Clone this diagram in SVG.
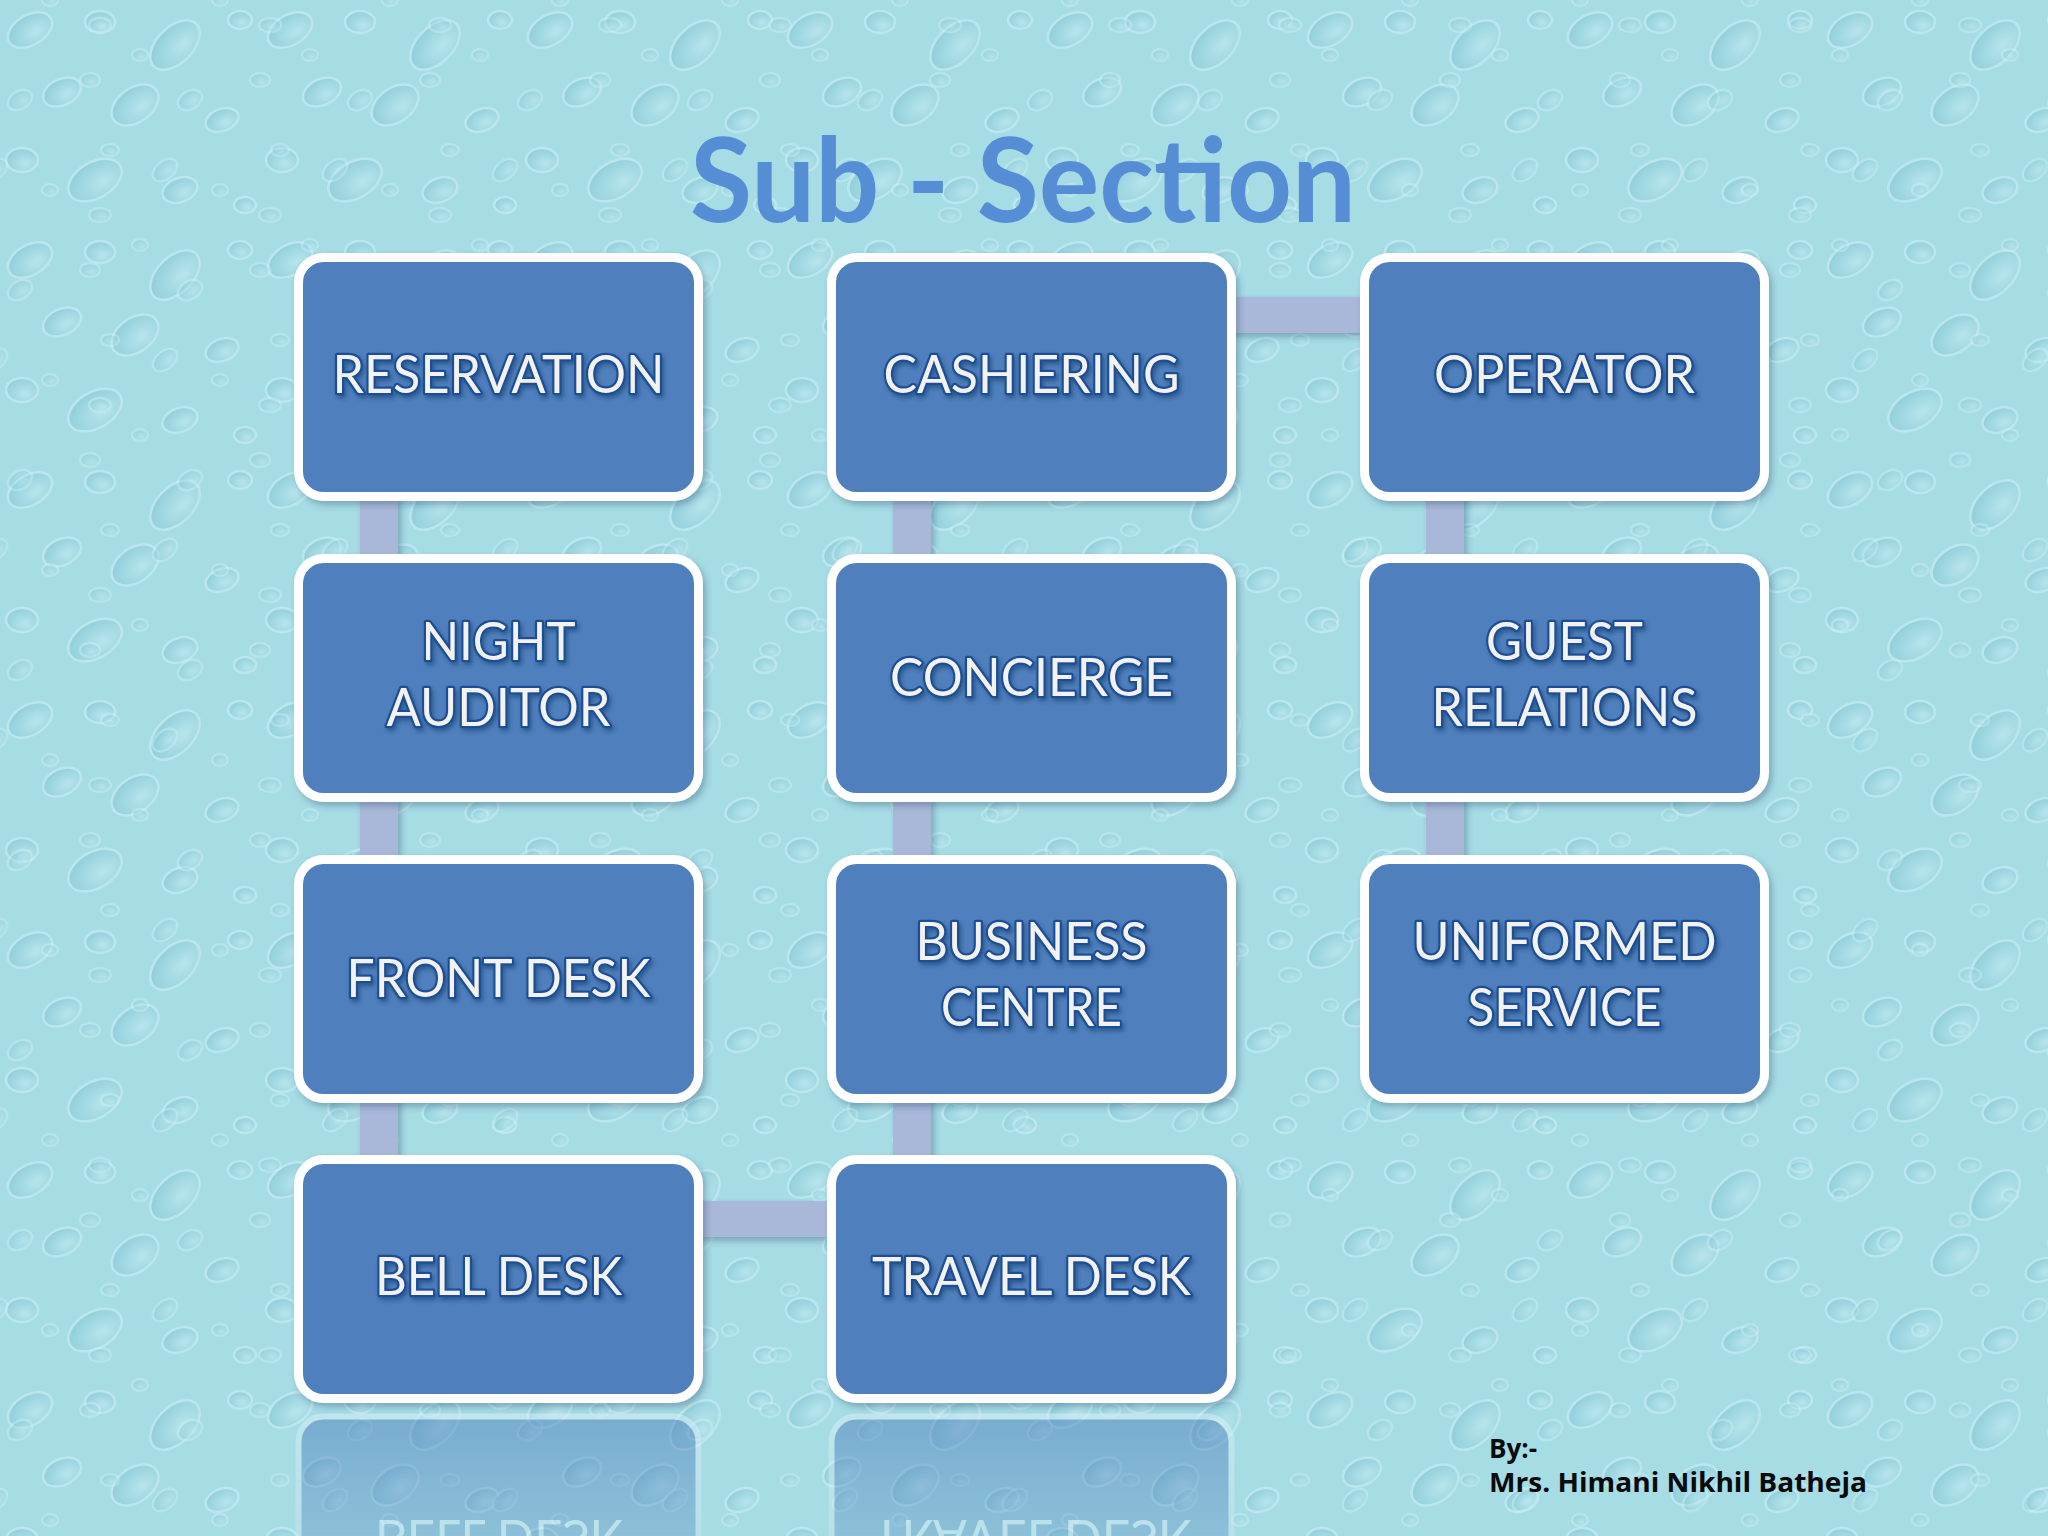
<svg xmlns="http://www.w3.org/2000/svg" width="2048" height="1536" viewBox="0 0 2048 1536">
<defs>
<style>
.box{fill:#4f80bd;stroke:#ffffff;stroke-width:9}
.lbl{font-family:Lato,"Open Sans","Liberation Sans",sans-serif;font-size:52px;fill:#f4f2ec;stroke:#1b4d98;stroke-width:4.5;stroke-linejoin:round;paint-order:stroke;text-anchor:middle}
.con{fill:#a9b8d9}
.title{font-family:Lato,"Open Sans","Liberation Sans",sans-serif;font-weight:bold;font-size:116px;fill:#568ed6}
.by{font-family:"Open Sans",Lato,"Liberation Sans",sans-serif;font-weight:bold;font-size:26px;fill:#0a0a0a}
.dr{fill:url(#drop);stroke:#cdeff4;stroke-width:2.5}
</style>
<radialGradient id="drop" cx="0.6" cy="0.65" r="0.6">
<stop offset="0" stop-color="#c6ecf2"/>
<stop offset="0.7" stop-color="#98d3df"/>
<stop offset="1" stop-color="#86c8d6"/>
</radialGradient>
<pattern id="tex1" width="260" height="230" patternUnits="userSpaceOnUse">
<g opacity="0.55">
<ellipse class="dr" cx="30" cy="30" rx="24" ry="15" transform="rotate(-30 30 30)"/>
<ellipse class="dr" cx="100" cy="22" rx="15" ry="11"/>
<ellipse class="dr" cx="175" cy="45" rx="30" ry="18" transform="rotate(-45 175 45)"/>
<ellipse class="dr" cx="240" cy="20" rx="12" ry="9"/>
<ellipse class="dr" cx="62" cy="92" rx="20" ry="13" transform="rotate(-25 62 92)"/>
<ellipse class="dr" cx="135" cy="105" rx="26" ry="17" transform="rotate(-35 135 105)"/>
<ellipse class="dr" cx="222" cy="120" rx="17" ry="11" transform="rotate(-20 222 120)"/>
<ellipse class="dr" cx="22" cy="160" rx="16" ry="12"/>
<ellipse class="dr" cx="95" cy="180" rx="29" ry="18" transform="rotate(-30 95 180)"/>
<ellipse class="dr" cx="180" cy="190" rx="18" ry="12" transform="rotate(-20 180 190)"/>
<ellipse class="dr" cx="245" cy="205" rx="11" ry="8"/>
</g>
</pattern>
<pattern id="tex2" x="70" y="40" width="170" height="190" patternUnits="userSpaceOnUse">
<g opacity="0.4">
<ellipse class="dr" cx="20" cy="40" rx="10" ry="7"/>
<ellipse class="dr" cx="70" cy="15" rx="8" ry="6"/>
<ellipse class="dr" cx="120" cy="60" rx="13" ry="9" transform="rotate(-30 120 60)"/>
<ellipse class="dr" cx="40" cy="110" rx="9" ry="6"/>
<ellipse class="dr" cx="95" cy="130" rx="14" ry="9" transform="rotate(-40 95 130)"/>
<ellipse class="dr" cx="150" cy="150" rx="8" ry="6"/>
<ellipse class="dr" cx="30" cy="175" rx="11" ry="7"/>
</g>
</pattern>
<filter id="sh" x="-10%" y="-10%" width="125%" height="130%">
<feDropShadow dx="3" dy="4" stdDeviation="3" flood-color="#2a4a6a" flood-opacity="0.35"/>
</filter>
<filter id="tsh" x="-10%" y="-20%" width="120%" height="150%">
<feDropShadow dx="2" dy="3" stdDeviation="2" flood-color="#0d2a55" flood-opacity="0.45"/>
</filter>
<linearGradient id="fade" x1="0" y1="0" x2="0" y2="1">
<stop offset="0" stop-color="#fff" stop-opacity="0.55"/>
<stop offset="1" stop-color="#fff" stop-opacity="0.3"/>
</linearGradient>
<mask id="rmask" maskUnits="userSpaceOnUse" x="0" y="1400" width="2048" height="136">
<rect x="0" y="1400" width="2048" height="136" fill="url(#fade)"/>
</mask>
</defs>

<rect width="2048" height="1536" fill="#a6dce4"/>
<rect width="2048" height="1536" fill="url(#tex1)"/>
<rect width="2048" height="1536" fill="url(#tex2)"/>

<text class="title" x="690" y="222" textLength="666" lengthAdjust="spacingAndGlyphs">Sub - Section</text>

<g id="connectors" filter="url(#sh)">
<rect class="con" x="360" y="480" width="38" height="700"/>
<rect class="con" x="893" y="480" width="38" height="700"/>
<rect class="con" x="1426" y="480" width="38" height="400"/>
<rect class="con" x="1220" y="297" width="160" height="36"/>
<rect class="con" x="690" y="1201" width="150" height="36"/>
</g>

<g id="node-reservation" filter="url(#sh)">
<rect class="box" x="298.5" y="257.5" width="400" height="239" rx="25"/>
<text class="lbl" x="498.5" y="393" textLength="332" lengthAdjust="spacingAndGlyphs" filter="url(#tsh)">RESERVATION</text>
</g>
<g id="node-cashiering" filter="url(#sh)">
<rect class="box" x="831.5" y="257.5" width="400" height="239" rx="25"/>
<text class="lbl" x="1031.5" y="393" textLength="296" lengthAdjust="spacingAndGlyphs" filter="url(#tsh)">CASHIERING</text>
</g>
<g id="node-operator" filter="url(#sh)">
<rect class="box" x="1364.5" y="257.5" width="400" height="239" rx="25"/>
<text class="lbl" x="1564.5" y="393" textLength="261" lengthAdjust="spacingAndGlyphs" filter="url(#tsh)">OPERATOR</text>
</g>

<g id="node-night-auditor" filter="url(#sh)">
<rect class="box" x="298.5" y="558.5" width="400" height="239" rx="25"/>
<text class="lbl" x="498.5" y="660" textLength="154" lengthAdjust="spacingAndGlyphs" filter="url(#tsh)">NIGHT</text>
<text class="lbl" x="498.5" y="726" textLength="224" lengthAdjust="spacingAndGlyphs" filter="url(#tsh)">AUDITOR</text>
</g>
<g id="node-concierge" filter="url(#sh)">
<rect class="box" x="831.5" y="558.5" width="400" height="239" rx="25"/>
<text class="lbl" x="1031.5" y="696" textLength="283" lengthAdjust="spacingAndGlyphs" filter="url(#tsh)">CONCIERGE</text>
</g>
<g id="node-guest-relations" filter="url(#sh)">
<rect class="box" x="1364.5" y="558.5" width="400" height="239" rx="25"/>
<text class="lbl" x="1564.5" y="660" textLength="157" lengthAdjust="spacingAndGlyphs" filter="url(#tsh)">GUEST</text>
<text class="lbl" x="1564.5" y="726" textLength="266" lengthAdjust="spacingAndGlyphs" filter="url(#tsh)">RELATIONS</text>
</g>

<g id="node-front-desk" filter="url(#sh)">
<rect class="box" x="298.5" y="859.5" width="400" height="239" rx="25"/>
<text class="lbl" x="498.5" y="997" textLength="304" lengthAdjust="spacingAndGlyphs" filter="url(#tsh)">FRONT DESK</text>
</g>
<g id="node-business-centre" filter="url(#sh)">
<rect class="box" x="831.5" y="859.5" width="400" height="239" rx="25"/>
<text class="lbl" x="1031.5" y="960" textLength="232" lengthAdjust="spacingAndGlyphs" filter="url(#tsh)">BUSINESS</text>
<text class="lbl" x="1031.5" y="1026" textLength="181" lengthAdjust="spacingAndGlyphs" filter="url(#tsh)">CENTRE</text>
</g>
<g id="node-uniformed-service" filter="url(#sh)">
<rect class="box" x="1364.5" y="859.5" width="400" height="239" rx="25"/>
<text class="lbl" x="1564.5" y="960" textLength="304" lengthAdjust="spacingAndGlyphs" filter="url(#tsh)">UNIFORMED</text>
<text class="lbl" x="1564.5" y="1026" textLength="194" lengthAdjust="spacingAndGlyphs" filter="url(#tsh)">SERVICE</text>
</g>

<g id="node-bell-desk" filter="url(#sh)">
<rect class="box" x="298.5" y="1159.5" width="400" height="239" rx="25"/>
<text class="lbl" x="498.5" y="1295" textLength="247" lengthAdjust="spacingAndGlyphs" filter="url(#tsh)">BELL DESK</text>
</g>
<g id="node-travel-desk" filter="url(#sh)">
<rect class="box" x="831.5" y="1159.5" width="400" height="239" rx="25"/>
<text class="lbl" x="1031.5" y="1295" textLength="319" lengthAdjust="spacingAndGlyphs" filter="url(#tsh)">TRAVEL DESK</text>
</g>

<g id="reflection" mask="url(#rmask)">
<g transform="translate(0 2815) scale(1 -1)">
<rect x="298.5" y="1159.5" width="400" height="239" rx="25" fill="#4f80bd" stroke="#d8eef4" stroke-width="6"/>
<text x="498.5" y="1295" font-family="Lato,'Open Sans','Liberation Sans',sans-serif" font-size="52" fill="#e8eef6" text-anchor="middle" textLength="247" lengthAdjust="spacingAndGlyphs">BELL DESK</text>
<rect x="831.5" y="1159.5" width="400" height="239" rx="25" fill="#4f80bd" stroke="#d8eef4" stroke-width="6"/>
<text x="1031.5" y="1295" font-family="Lato,'Open Sans','Liberation Sans',sans-serif" font-size="52" fill="#e8eef6" text-anchor="middle" textLength="319" lengthAdjust="spacingAndGlyphs">TRAVEL DESK</text>
</g>
</g>

<text class="by" x="1489" y="1458">By:-</text>
<text class="by" x="1489" y="1492" textLength="378" lengthAdjust="spacingAndGlyphs">Mrs. Himani Nikhil Batheja</text>
</svg>
